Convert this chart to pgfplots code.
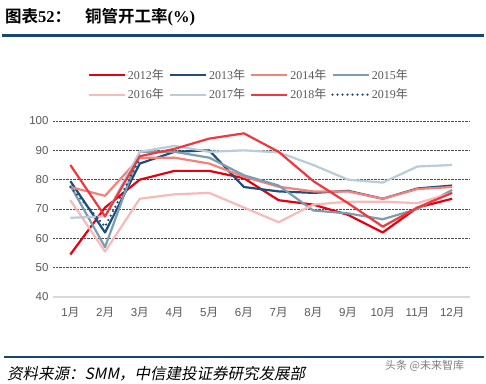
\documentclass[border=0pt]{standalone}
\usepackage{fontspec}
\setmainfont{Liberation Sans}
\newfontfamily\cjk{Noto Sans CJK SC}
\newfontfamily\cjkb{Noto Sans CJK SC Bold}
\newfontfamily\cjkit[FakeSlant=0.2]{Noto Sans CJK SC}
\newfontfamily\serifb{Liberation Serif}
\usepackage{pgfplots}
\pgfplotsset{compat=1.18}
\definecolor{c12}{RGB}{230,0,18}
\definecolor{c13}{RGB}{31,78,121}
\definecolor{c14}{RGB}{245,130,122}
\definecolor{c15}{RGB}{122,158,176}
\definecolor{c16}{RGB}{248,185,185}
\definecolor{c17}{RGB}{184,204,218}
\definecolor{c18}{RGB}{240,56,62}
\definecolor{rule}{RGB}{20,72,115}
\definecolor{tick}{RGB}{89,89,89}
\begin{document}
\begin{tikzpicture}
\path[fill=white] (0pt,0pt) rectangle (486pt,383pt);
% title
\node[anchor=west,inner sep=0] at (5pt,366pt) {\fontsize{16.5}{19}\selectfont\cjkb 图表{\serifb\bfseries 52}：\hspace{14pt}铜管开工率{\serifb\bfseries (\%)}};
\fill[rule] (2pt,345.5pt) rectangle (484pt,348.5pt);
% footer
\fill[rule] (4pt,25pt) rectangle (484pt,27pt);
\node[anchor=west,inner sep=0] at (7pt,9pt) {\fontsize{15.5}{18}\selectfont\cjkit 资料来源：SMM，中信建投证券研究发展部};
\node[anchor=west,inner sep=0,text=gray] at (385pt,17pt) {\fontsize{11}{13}\selectfont\cjk 头条 @未来智库};
\begin{axis}[
  scale only axis,
  width=416.5pt, height=176pt,
  at={(53pt,86pt)}, anchor=south west,
  xmin=0.5, xmax=12.5, ymin=40, ymax=100,
  xtick={1,...,12},
  xticklabels={1{\cjk 月},2{\cjk 月},3{\cjk 月},4{\cjk 月},5{\cjk 月},6{\cjk 月},7{\cjk 月},8{\cjk 月},9{\cjk 月},10{\cjk 月},11{\cjk 月},12{\cjk 月}},
  ytick={40,50,...,100},
  /pgf/number format/assume math mode=true,
  tick label style={font=\fontsize{11.5}{13}\selectfont, text=tick},
  xticklabel style={yshift=-7pt},
  yticklabel style={xshift=-1pt},
  major tick length=0pt,
  axis x line*=bottom,
  axis y line*=left,
  y axis line style={draw=none},
  x axis line style={draw=black!15, line width=2pt, -},
  ymajorgrids,
  grid style={densely dotted, draw=black!70, line width=0.6pt},
  legend style={at={(0.47,1.3125)}, anchor=north, draw=none, fill=none,
    font=\fontsize{12}{14}\selectfont\serifb, text=tick,
    /tikz/every even column/.append style={column sep=3pt},
    row sep=4pt, inner sep=1pt},
  legend cell align=left,
  legend columns=4,
  legend image code/.code={\draw[#1] (0pt,0pt) -- (36pt,0pt);},
  every axis plot/.append style={line width=2.2pt, no marks, line join=round},
  clip=false,
]
\addplot[c12] coordinates {(1,54.5)(2,70.5)(3,80)(4,83)(5,83)(6,80.5)(7,73)(8,71.5)(9,68)(10,62)(11,70.5)(12,73.5)};
\addlegendentry{2012{\cjk 年}}
\addplot[c13] coordinates {(1,79.5)(2,62)(3,85.5)(4,89.5)(5,90)(6,77.5)(7,76)(8,75.5)(9,76.2)(10,73.5)(11,77)(12,78)};
\addlegendentry{2013{\cjk 年}}
\addplot[c14] coordinates {(1,77.5)(2,74.5)(3,87.5)(4,87.5)(5,85.5)(6,81)(7,77.6)(8,76)(9,76)(10,73.5)(11,76.8)(12,77.5)};
\addlegendentry{2014{\cjk 年}}
\addplot[c15] coordinates {(1,78)(2,57)(3,89.5)(4,89.5)(5,87.5)(6,81.5)(7,78)(8,69.5)(9,68.5)(10,66.5)(11,70)(12,76.5)};
\addlegendentry{2015{\cjk 年}}
\addplot[c16] coordinates {(1,73)(2,55.5)(3,73.5)(4,75)(5,75.5)(6,70.5)(7,65.5)(8,71.5)(9,72.5)(10,72.5)(11,72)(12,75.5)};
\addlegendentry{2016{\cjk 年}}
\addplot[c17] coordinates {(1,67)(2,67.5)(3,89.5)(4,91.5)(5,89.5)(6,90)(7,89.3)(8,85)(9,80)(10,79)(11,84.5)(12,85)};
\addlegendentry{2017{\cjk 年}}
\addplot[c18] coordinates {(1,85)(2,67.5)(3,88)(4,90.5)(5,94)(6,95.8)(7,89.5)(8,79.5)(9,72)(10,64)(11,70.5)(12,75.5)};
\addlegendentry{2018{\cjk 年}}
\addplot[c13, line width=2.5pt, line cap=round, dash pattern=on 0pt off 5pt] coordinates {(1,77.5)(2,64)(3,87)};
\addlegendentry{2019{\cjk 年}}
\end{axis}
\end{tikzpicture}
\end{document}
